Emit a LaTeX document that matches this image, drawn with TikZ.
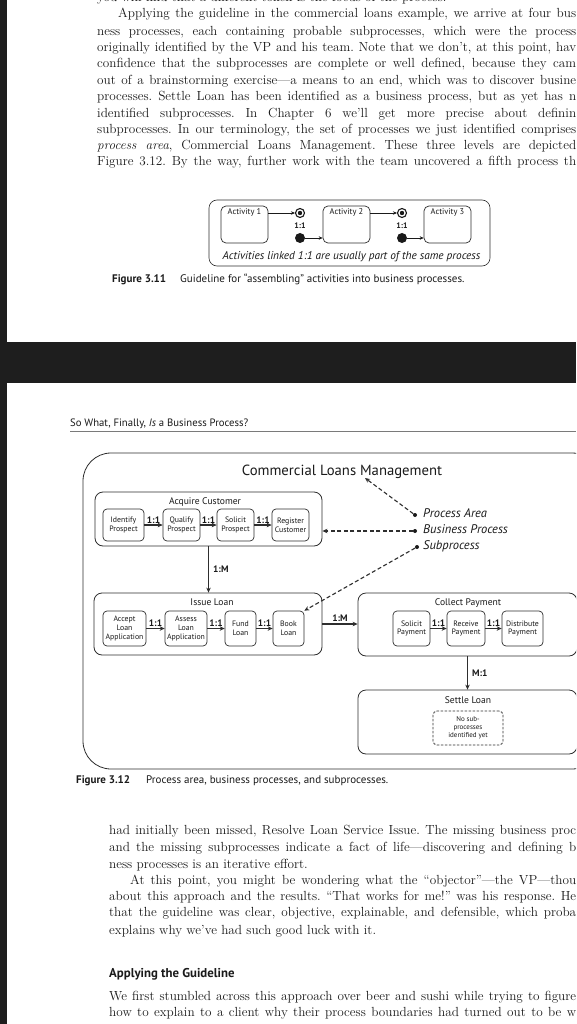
\documentclass[tikz,border=0pt]{standalone}
\usepackage{fontspec}
\newfontfamily\figsans{PT Sans}
\usetikzlibrary{arrows.meta}
\definecolor{ink}{HTML}{1A1A1A}
\definecolor{fline}{HTML}{2E2E2E}
\definecolor{band}{HTML}{1E1E1E}
\definecolor{rule}{HTML}{7A7A7A}
\frenchspacing
\tikzset{
 body/.style={anchor=mid west, inner sep=0pt, text=ink, font=\frenchspacing\fontsize{13.2}{15}\selectfont},
 figcap/.style={anchor=mid west, inner sep=0pt, text=ink, font=\figsans\fontsize{11}{12}\selectfont},
 pbox/.style={draw=fline, line width=0.8pt, rounded corners=8pt, inner sep=0pt},
 sbox/.style={draw=fline, line width=0.7pt, rounded corners=4pt, align=center, inner sep=0pt, font=\figsans\fontsize{7.8}{8.6}\selectfont, text=ink},
 ptitle/.style={font=\figsans\fontsize{9.6}{10}\selectfont, text=ink, inner sep=0pt},
 ratio/.style={font=\figsans\bfseries\fontsize{9.4}{9.4}\selectfont, text=ink, inner sep=1pt},
 flow/.style={draw=fline, line width=1.3pt, -{Stealth[length=5pt,width=4.5pt]}},
 thinflow/.style={draw=ink, line width=0.8pt, -{Stealth[length=4pt,width=3.5pt]}},
 legarrow/.style={draw=fline, line width=1.1pt, dash pattern=on 4pt off 2.5pt, -{Stealth[length=5pt,width=4.5pt]}},
 legdot/.style={circle, fill=ink, inner sep=0pt, minimum size=4pt},
 legtext/.style={anchor=mid west, inner sep=0pt, text=ink, font=\figsans\itshape\fontsize{12.5}{13}\selectfont},
 actbox/.style={draw=fline, line width=0.7pt, rounded corners=5pt, minimum width=47pt, minimum height=37pt, inner sep=0pt},
 actlabel/.style={anchor=north, inner sep=3pt, font=\figsans\fontsize{8.4}{9}\selectfont, text=ink},
}
\newcommand\bodyline[4]{\node[body] (#1) at #2 {\makebox[#3][s]{#4}};}
\begin{document}
\begin{tikzpicture}[x=1pt,y=-1pt]
\useasboundingbox (0,0) rectangle (576,1024);
\clip (0,0) rectangle (576,1024);
\fill[white] (0,0) rectangle (576,1024);
\fill[band] (0,0) rectangle (7,1024);
% ---- top page text ----
\node[body] (t0) at (97,-1) {you will find that a different token is the focus of the process.};
\bodyline{t1}{(118,15)}{458pt}{Applying the guideline in the commercial loans example, we arrive at four bus}
\bodyline{t2}{(97,33)}{479pt}{ness processes, each containing probable subprocesses, which were the process}
\bodyline{t3}{(97,49)}{479pt}{originally identified by the VP and his team. Note that we don’t, at this point, hav}
\bodyline{t4}{(97,65)}{479pt}{confidence that the subprocesses are complete or well defined, because they cam}
\bodyline{t5}{(97,82)}{479pt}{out of a brainstorming exercise—a means to an end, which was to discover busine}
\bodyline{t6}{(97,98)}{479pt}{processes. Settle Loan has been identified as a business process, but as yet has n}
\bodyline{t7}{(97,115)}{479pt}{identified subprocesses. In Chapter 6 we’ll get more precise about definin}
\bodyline{t8}{(97,131)}{479pt}{subprocesses. In our terminology, the set of processes we just identified comprises}
\bodyline{t9}{(97,147)}{479pt}{\textit{process area}, Commercial Loans Management. These three levels are depicted}
\bodyline{t10}{(97,163)}{479pt}{Figure 3.12. By the way, further work with the team uncovered a fifth process th}
% ---- Figure 3.11 ----
\node[draw=fline, line width=0.6pt, rounded corners=8pt, minimum width=281pt, minimum height=66pt] (f11) at (349.5,233) {};
\node[actbox, label={[actlabel]north:Activity 1}] (act1) at (244.5,224.5) {};
\node[actbox, label={[actlabel]north:Activity 2}] (act2) at (346.5,224.5) {};
\node[actbox, label={[actlabel]north:Activity 3}] (act3) at (447.5,224.5) {};
\node[circle, draw=ink, line width=1.1pt, minimum size=9pt, inner sep=0pt] (bz1) at (300,213) {};
\node[circle, draw=ink, line width=1.1pt, minimum size=9pt, inner sep=0pt] (bz2) at (402,213) {};
\fill[ink] (bz1.center) circle (2.2pt);
\fill[ink] (bz2.center) circle (2.2pt);
\node[circle, fill=ink, minimum size=10pt, inner sep=0pt] (dt1) at (300,238) {};
\node[circle, fill=ink, minimum size=10pt, inner sep=0pt] (dt2) at (402,238) {};
\node[font=\figsans\bfseries\fontsize{8}{8}\selectfont, text=ink, inner sep=0pt] (r11a) at (300,226) {1:1};
\node[font=\figsans\bfseries\fontsize{8}{8}\selectfont, text=ink, inner sep=0pt] (r11b) at (402,226) {1:1};
\draw[thinflow] (act1.east |- bz1) -- (bz1.west);
\draw[thinflow] (act2.east |- bz2) -- (bz2.west);
\draw[thinflow] (dt1.east) -- (act2.west |- dt1);
\draw[thinflow] (dt2.east) -- (act3.west |- dt2);
\node[font=\figsans\itshape\fontsize{11.3}{12}\selectfont, text=ink, inner sep=0pt] (n11) at (351.5,257) {Activities linked 1:1 are usually part of the same process};
\node[figcap] (c11a) at (112,280) {\bfseries Figure 3.11};
\node[figcap] (c11b) at (180,280) {Guideline for “assembling” activities into business processes.};
% ---- page break band ----
\fill[band] (0,342) rectangle (576,383);
% ---- header ----
\node[anchor=mid west, inner sep=0pt, text=ink, font=\figsans\fontsize{10.7}{12}\selectfont] (hdr) at (70,424) {So What, Finally, \textit{Is} a Business Process?};
\draw[rule, line width=0.7pt] (hdr.south west |- 0,431) -- (576,431);
% ---- Figure 3.12 ----
\draw[fline, line width=0.8pt, rounded corners=28pt] (83,453) rectangle (600,769);
\node[font=\figsans\fontsize{14.7}{16}\selectfont, text=ink, inner sep=0pt] (title) at (342,472) {Commercial Loans Management};
% Acquire Customer
\node[pbox, minimum width=227pt, minimum height=54pt] (acq) at (208.5,519) {};
\node[ptitle] (acqt) at (205,502) {Acquire Customer};
\node[sbox, minimum width=41pt, minimum height=32pt] (idp) at (123.5,525) {Identify\\Prospect};
\node[sbox, minimum width=37pt, minimum height=32pt] (qup) at (181.5,525) {Qualify\\Prospect};
\node[sbox, minimum width=37pt, minimum height=32pt] (sop) at (235.5,525) {Solicit\\Prospect};
\node[sbox, minimum width=37pt, minimum height=32pt] (rec) at (290.5,525) {Register\\Customer};
\draw[flow] (idp.east) -- node[ratio, above] (ra1) {1:1} (qup.west);
\draw[flow] (qup.east) -- node[ratio, above] (ra2) {1:1} (sop.west);
\draw[flow] (sop.east) -- node[ratio, above] (ra3) {1:1} (rec.west);
% Issue Loan
\node[pbox, minimum width=228pt, minimum height=62pt] (iss) at (208,624) {};
\node[ptitle] (isst) at (212,602) {Issue Loan};
\node[sbox, minimum width=43pt, minimum height=35pt] (ala) at (124.5,628.5) {Accept\\Loan\\Application};
\node[sbox, minimum width=42pt, minimum height=35pt] (asl) at (186,628.5) {Assess\\Loan\\Application};
\node[sbox, minimum width=31pt, minimum height=35pt] (fl) at (240.5,628.5) {Fund\\Loan};
\node[sbox, minimum width=31pt, minimum height=35pt] (bl) at (288.5,628.5) {Book\\Loan};
\draw[flow] (ala.east) -- node[ratio, above] (rb1) {1:1} (asl.west);
\draw[flow] (asl.east) -- node[ratio, above] (rb2) {1:1} (fl.west);
\draw[flow] (fl.east) -- node[ratio, above] (rb3) {1:1} (bl.west);
% Collect Payment
\node[pbox, minimum width=219pt, minimum height=63pt] (col) at (467.5,624.5) {};
\node[ptitle] (colt) at (468,603) {Collect Payment};
\node[sbox, minimum width=37pt, minimum height=35pt] (spay) at (411.5,628.5) {Solicit\\Payment};
\node[sbox, minimum width=38pt, minimum height=35pt] (rpay) at (466,628.5) {Receive\\Payment};
\node[sbox, minimum width=41pt, minimum height=35pt] (dpay) at (522.5,628.5) {Distribute\\Payment};
\draw[flow] (spay.east) -- node[ratio, above] (rc1) {1:1} (rpay.west);
\draw[flow] (rpay.east) -- node[ratio, above] (rc2) {1:1} (dpay.west);
% Settle Loan
\node[pbox, minimum width=219pt, minimum height=64pt] (set) at (467.5,722) {};
\node[ptitle] (sett) at (468,700) {Settle Loan};
\node[draw=fline, line width=0.8pt, dash pattern=on 2.5pt off 1.5pt, rounded corners=4pt, minimum width=70pt, minimum height=34pt, inner sep=0pt, align=center, font=\figsans\fontsize{7}{8}\selectfont, text=ink] (nosub) at (468,728) {No sub-\\processes\\identified yet};
% process flows
\draw[flow] (acq.south) -- node[ratio, right, xshift=3pt] (rm1) {1:M} (acq.south |- iss.north);
\draw[flow] (iss.east) -- node[ratio, above, yshift=1pt] (rm2) {1:M} (col.west |- iss.east);
\draw[flow] (col.south) -- node[ratio, right, xshift=3pt] (rm3) {M:1} (col.south |- set.north);
% legend
\node[legdot] (pad) at (415,515) {};
\node[legdot] (bpd) at (415,531) {};
\node[legdot] (spd) at (417,547) {};
\node[legtext] (pat) at (423,515) {Process Area};
\node[legtext] (bpt) at (423,531) {Business Process};
\node[legtext] (spt) at (423,547) {Subprocess};
\coordinate (tM) at (365,478);
\draw[legarrow] (pad) -- (tM);
\draw[legarrow] (bpd) -- (acq.east |- bpd);
\draw[legarrow] (spd) -- (bl.north east);
% caption
\node[figcap] (c12a) at (76,781) {\bfseries Figure 3.12};
\node[figcap] (c12b) at (146,781) {Process area, business processes, and subprocesses.};
% ---- bottom text ----
\bodyline{b1}{(109,832)}{467pt}{had initially been missed, Resolve Loan Service Issue. The missing business proc}
\bodyline{b2}{(109,849)}{467pt}{and the missing subprocesses indicate a fact of life—discovering and defining b}
\node[body] (b3) at (109,866) {ness processes is an iterative effort.};
\bodyline{b4}{(130,882)}{446pt}{At this point, you might be wondering what the “objector”—the VP—thou}
\bodyline{b5}{(109,898)}{467pt}{about this approach and the results. “That works for me!” was his response. He}
\bodyline{b6}{(109,914)}{467pt}{that the guideline was clear, objective, explainable, and defensible, which proba}
\node[body] (b7) at (109,932) {explains why we’ve had such good luck with it.};
\node[anchor=mid west, inner sep=0pt, text=ink, font=\figsans\bfseries\fontsize{12.8}{14}\selectfont] (hd2) at (109,975) {Applying the Guideline};
\bodyline{b8}{(109,998)}{467pt}{We first stumbled across this approach over beer and sushi while trying to figure}
\bodyline{b9}{(109,1014)}{467pt}{how to explain to a client why their process boundaries had turned out to be w}
\end{tikzpicture}
\end{document}
